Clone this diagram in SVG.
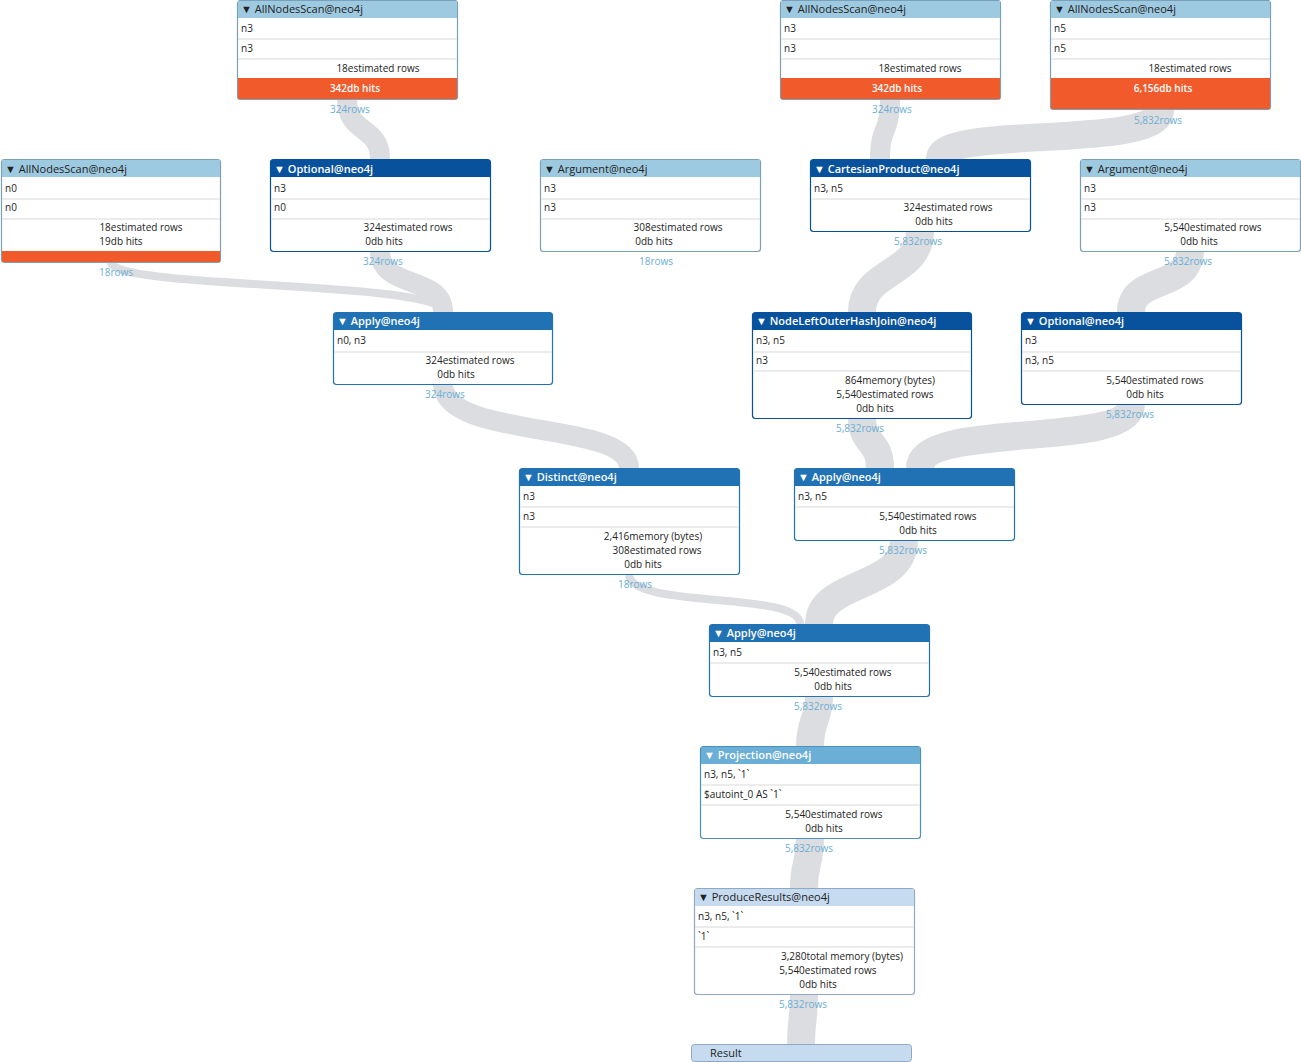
<svg xmlns="http://www.w3.org/2000/svg" width="1301" height="1062" viewBox="0 0 1301 1062">
<style>
text{font-family:"Open Sans","Noto Sans",sans-serif;font-size:10px;fill:#222}
.h{font-size:11px}
.hw{font-size:11px;fill:#fff;font-weight:600}
.c{text-anchor:middle}
.lbl{font-size:10px;fill:#6baed6;text-anchor:middle}
.band{fill:none;stroke:#dcdde0}
.sep{stroke:#e6e6e6;stroke-width:1.5}
.box{fill:#fff;stroke-width:1.2}
</style>
<rect width="1301" height="1062" fill="#fff"/>
<g id="connectors">
<path class="band" stroke-width="20" d="M347,99 C347,135 380,125 380,159"/>
<path class="band" stroke-width="20" d="M890,99 C890,135 880,125 880,159"/>
<path class="band" stroke-width="28" d="M1160,110 C1160,150 940,125 940,159"/>
<path class="band" stroke-width="8" d="M111,262 C111,290 443,280 443,312"/>
<path class="band" stroke-width="20" d="M380,251 C380,290 443,275 443,312"/>
<path class="band" stroke-width="28" d="M920,231 C920,275 862,270 862,312"/>
<path class="band" stroke-width="28" d="M1190,251 C1190,290 1131,275 1131,312"/>
<path class="band" stroke-width="20" d="M443,384 C443,440 629,420 629,468"/>
<path class="band" stroke-width="28" d="M862,418 C862,445 880,440 880,468"/>
<path class="band" stroke-width="28" d="M1131,404 C1131,450 920,420 920,468"/>
<path class="band" stroke-width="8" d="M629,574 C629,610 800,590 800,624"/>
<path class="band" stroke-width="28" d="M904,540 C904,590 819,580 819,624"/>
<path class="band" stroke-width="28" d="M819,696 C819,720 810,720 810,746"/>
<path class="band" stroke-width="28" d="M810,838 C810,865 804,862 804,888"/>
<path class="band" stroke-width="28" d="M804,994 C804,1020 801,1020 801,1044"/>
<text class="lbl" x="350" y="113">324rows</text>
<text class="lbl" x="892" y="113">324rows</text>
<text class="lbl" x="1158" y="124">5,832rows</text>
<text class="lbl" x="116" y="276">18rows</text>
<text class="lbl" x="383" y="265">324rows</text>
<text class="lbl" x="656" y="265">18rows</text>
<text class="lbl" x="918" y="245">5,832rows</text>
<text class="lbl" x="1188" y="265">5,832rows</text>
<text class="lbl" x="445" y="398">324rows</text>
<text class="lbl" x="860" y="432">5,832rows</text>
<text class="lbl" x="1130" y="418">5,832rows</text>
<text class="lbl" x="635" y="588">18rows</text>
<text class="lbl" x="903" y="554">5,832rows</text>
<text class="lbl" x="818" y="710">5,832rows</text>
<text class="lbl" x="809" y="852">5,832rows</text>
<text class="lbl" x="803" y="1008">5,832rows</text>
</g>

<g id="ans1">
<rect class="box" x="237.5" y="0.5" width="220" height="99" rx="3" stroke="#7a9fb8"/>
<rect x="238" y="1" width="219" height="17" fill="#9ecae1"/>
<text class="h" x="241" y="13">▼ AllNodesScan@neo4j</text>
<text x="241" y="32">n3</text><line class="sep" x1="238" y1="39" x2="457" y2="39"/>
<text x="241" y="52">n3</text><line class="sep" x1="238" y1="59" x2="457" y2="59"/>
<text class="c" x="378" y="72">18estimated rows</text>
<rect x="238" y="78" width="219" height="21" fill="#f15a2b"/>
<text class="hw c" x="355" y="92" style="font-size:10px">342db hits</text>
</g>
<g id="ans2">
<rect class="box" x="780.5" y="0.5" width="220" height="99" rx="3" stroke="#7a9fb8"/>
<rect x="781" y="1" width="219" height="17" fill="#9ecae1"/>
<text class="h" x="784" y="13">▼ AllNodesScan@neo4j</text>
<text x="784" y="32">n3</text><line class="sep" x1="781" y1="39" x2="1000" y2="39"/>
<text x="784" y="52">n3</text><line class="sep" x1="781" y1="59" x2="1000" y2="59"/>
<text class="c" x="920" y="72">18estimated rows</text>
<rect x="781" y="78" width="219" height="21" fill="#f15a2b"/>
<text class="hw c" x="897" y="92" style="font-size:10px">342db hits</text>
</g>
<g id="ans3">
<rect class="box" x="1050.5" y="0.5" width="220" height="109" rx="3" stroke="#7a9fb8"/>
<rect x="1051" y="1" width="219" height="17" fill="#9ecae1"/>
<text class="h" x="1054" y="13">▼ AllNodesScan@neo4j</text>
<text x="1054" y="32">n5</text><line class="sep" x1="1051" y1="39" x2="1270" y2="39"/>
<text x="1054" y="52">n5</text><line class="sep" x1="1051" y1="59" x2="1270" y2="59"/>
<text class="c" x="1190" y="72">18estimated rows</text>
<rect x="1051" y="78" width="219" height="31" fill="#f15a2b"/>
<text class="hw c" x="1163" y="92" style="font-size:10px">6,156db hits</text>
</g>
<g id="ans4">
<rect class="box" x="1.5" y="159.5" width="219" height="103" rx="3" stroke="#7a9fb8"/>
<rect x="2" y="160" width="218" height="17" fill="#9ecae1"/>
<text class="h" x="5" y="173">▼ AllNodesScan@neo4j</text>
<text x="5" y="192">n0</text><line class="sep" x1="2" y1="199" x2="220" y2="199"/>
<text x="5" y="211">n0</text><line class="sep" x1="2" y1="219" x2="220" y2="219"/>
<text class="c" x="141" y="231">18estimated rows</text>
<text class="c" x="121" y="245">19db hits</text>
<rect x="2" y="251" width="218" height="11" fill="#f15a2b"/>
</g>
<g id="optional1">
<rect class="box" x="270.5" y="159.5" width="220" height="92" rx="3" stroke="#08519c"/>
<rect x="271" y="160" width="219" height="17" fill="#08519c"/>
<text class="hw" x="274" y="173">▼ Optional@neo4j</text>
<text x="274" y="192">n3</text><line class="sep" x1="271" y1="199" x2="490" y2="199"/>
<text x="274" y="211">n0</text><line class="sep" x1="271" y1="219" x2="490" y2="219"/>
<text class="c" x="408" y="231">324estimated rows</text>
<text class="c" x="384" y="245">0db hits</text>
</g>
<g id="argument1">
<rect class="box" x="540.5" y="159.5" width="220" height="92" rx="3" stroke="#7a9fb8"/>
<rect x="541" y="160" width="219" height="17" fill="#9ecae1"/>
<text class="h" x="544" y="173">▼ Argument@neo4j</text>
<text x="544" y="192">n3</text><line class="sep" x1="541" y1="199" x2="760" y2="199"/>
<text x="544" y="211">n3</text><line class="sep" x1="541" y1="219" x2="760" y2="219"/>
<text class="c" x="678" y="231">308estimated rows</text>
<text class="c" x="654" y="245">0db hits</text>
</g>
<g id="cartesian">
<rect class="box" x="810.5" y="159.5" width="220" height="72" rx="3" stroke="#08519c"/>
<rect x="811" y="160" width="219" height="17" fill="#08519c"/>
<text class="hw" x="814" y="173">▼ CartesianProduct@neo4j</text>
<text x="814" y="192">n3, n5</text><line class="sep" x1="811" y1="199" x2="1030" y2="199"/>
<text class="c" x="948" y="211">324estimated rows</text>
<text class="c" x="934" y="225">0db hits</text>
</g>
<g id="argument2">
<rect class="box" x="1080.5" y="159.5" width="220" height="92" rx="3" stroke="#7a9fb8"/>
<rect x="1081" y="160" width="219" height="17" fill="#9ecae1"/>
<text class="h" x="1084" y="173">▼ Argument@neo4j</text>
<text x="1084" y="192">n3</text><line class="sep" x1="1081" y1="199" x2="1300" y2="199"/>
<text x="1084" y="211">n3</text><line class="sep" x1="1081" y1="219" x2="1300" y2="219"/>
<text class="c" x="1213" y="231">5,540estimated rows</text>
<text class="c" x="1199" y="245">0db hits</text>
</g>
<g id="apply1">
<rect class="box" x="333.5" y="312.5" width="219" height="72" rx="3" stroke="#2171b5"/>
<rect x="334" y="313" width="218" height="17" fill="#2171b5"/>
<text class="hw" x="337" y="325">▼ Apply@neo4j</text>
<text x="337" y="344">n0, n3</text><line class="sep" x1="334" y1="352" x2="552" y2="352"/>
<text class="c" x="470" y="364">324estimated rows</text>
<text class="c" x="456" y="378">0db hits</text>
</g>
<g id="nlohj">
<rect class="box" x="752.5" y="312.5" width="219" height="106" rx="3" stroke="#08519c"/>
<rect x="753" y="313" width="218" height="17" fill="#08519c"/>
<text class="hw" x="756" y="325">▼ NodeLeftOuterHashJoin@neo4j</text>
<text x="756" y="344">n3, n5</text><line class="sep" x1="753" y1="352" x2="971" y2="352"/>
<text x="756" y="364">n3</text><line class="sep" x1="753" y1="371" x2="971" y2="371"/>
<text class="c" x="890" y="384">864memory (bytes)</text>
<text class="c" x="885" y="398">5,540estimated rows</text>
<text class="c" x="875" y="412">0db hits</text>
</g>
<g id="optional2">
<rect class="box" x="1021.5" y="312.5" width="220" height="92" rx="3" stroke="#08519c"/>
<rect x="1022" y="313" width="219" height="17" fill="#08519c"/>
<text class="hw" x="1025" y="325">▼ Optional@neo4j</text>
<text x="1025" y="344">n3</text><line class="sep" x1="1022" y1="352" x2="1241" y2="352"/>
<text x="1025" y="364">n3, n5</text><line class="sep" x1="1022" y1="371" x2="1241" y2="371"/>
<text class="c" x="1155" y="384">5,540estimated rows</text>
<text class="c" x="1145" y="398">0db hits</text>
</g>
<g id="distinct">
<rect class="box" x="519.5" y="468.5" width="220" height="106" rx="3" stroke="#2171b5"/>
<rect x="520" y="469" width="219" height="17" fill="#2171b5"/>
<text class="hw" x="523" y="481">▼ Distinct@neo4j</text>
<text x="523" y="500">n3</text><line class="sep" x1="520" y1="507" x2="739" y2="507"/>
<text x="523" y="520">n3</text><line class="sep" x1="520" y1="527" x2="739" y2="527"/>
<text class="c" x="653" y="540">2,416memory (bytes)</text>
<text class="c" x="657" y="554">308estimated rows</text>
<text class="c" x="643" y="568">0db hits</text>
</g>
<g id="apply2">
<rect class="box" x="794.5" y="468.5" width="220" height="72" rx="3" stroke="#2171b5"/>
<rect x="795" y="469" width="219" height="17" fill="#2171b5"/>
<text class="hw" x="798" y="481">▼ Apply@neo4j</text>
<text x="798" y="500">n3, n5</text><line class="sep" x1="795" y1="507" x2="1014" y2="507"/>
<text class="c" x="928" y="520">5,540estimated rows</text>
<text class="c" x="918" y="534">0db hits</text>
</g>
<g id="apply3">
<rect class="box" x="709.5" y="624.5" width="220" height="72" rx="3" stroke="#2171b5"/>
<rect x="710" y="625" width="219" height="17" fill="#2171b5"/>
<text class="hw" x="713" y="637">▼ Apply@neo4j</text>
<text x="713" y="656">n3, n5</text><line class="sep" x1="710" y1="663" x2="929" y2="663"/>
<text class="c" x="843" y="676">5,540estimated rows</text>
<text class="c" x="833" y="690">0db hits</text>
</g>
<g id="projection">
<rect class="box" x="700.5" y="746.5" width="220" height="92" rx="3" stroke="#4a8fbd"/>
<rect x="701" y="747" width="219" height="17" fill="#6baed6"/>
<text class="hw" x="704" y="759">▼ Projection@neo4j</text>
<text x="704" y="778">n3, n5, `1`</text><line class="sep" x1="701" y1="785" x2="920" y2="785"/>
<text x="704" y="798">$autoint_0 AS `1`</text><line class="sep" x1="701" y1="805" x2="920" y2="805"/>
<text class="c" x="834" y="818">5,540estimated rows</text>
<text class="c" x="824" y="832">0db hits</text>
</g>
<g id="produceresults">
<rect class="box" x="694.5" y="888.5" width="220" height="106" rx="3" stroke="#8fa9c4"/>
<rect x="695" y="889" width="219" height="17" fill="#c6dbef"/>
<text class="h" x="698" y="901">▼ ProduceResults@neo4j</text>
<text x="698" y="920">n3, n5, `1`</text><line class="sep" x1="695" y1="927" x2="914" y2="927"/>
<text x="698" y="940">`1`</text><line class="sep" x1="695" y1="947" x2="914" y2="947"/>
<text class="c" x="842" y="960">3,280total memory (bytes)</text>
<text class="c" x="828" y="974">5,540estimated rows</text>
<text class="c" x="818" y="988">0db hits</text>
</g>
<g id="result">
<rect x="691.5" y="1044.5" width="220" height="17" rx="3" fill="#c6dbef" stroke="#8fa9c4"/>
<text class="h" x="710" y="1057">Result</text>
</g>
</svg>
